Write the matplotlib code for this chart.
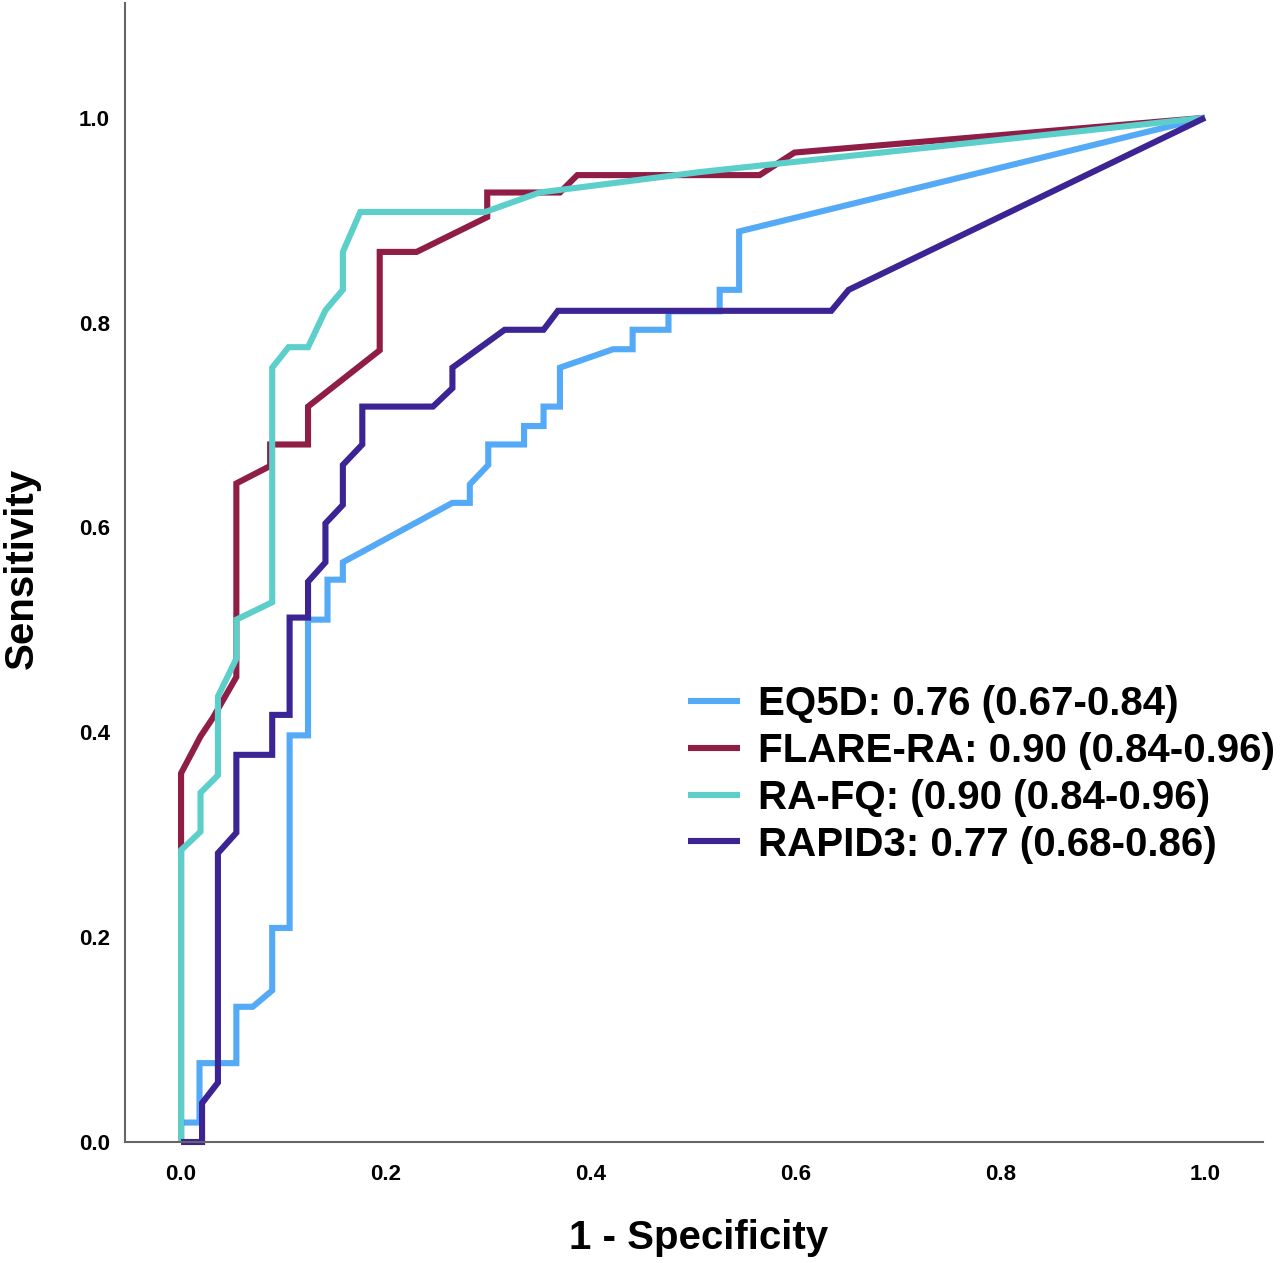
import matplotlib.pyplot as plt

plt.rcParams['font.family'] = ['Liberation Sans', 'DejaVu Sans']

# ROC curves (1 - specificity, sensitivity)
eq5d_x = [0, 0, 0.018, 0.018, 0.054, 0.054, 0.070, 0.089, 0.089, 0.106, 0.106, 0.124, 0.124,
          0.143, 0.143, 0.158, 0.158, 0.265, 0.282, 0.282, 0.300, 0.300, 0.335, 0.335, 0.354,
          0.354, 0.370, 0.370, 0.422, 0.441, 0.441, 0.476, 0.476, 0.526, 0.526, 0.545, 0.545, 1.0]
eq5d_y = [0, 0.019, 0.019, 0.077, 0.077, 0.132, 0.132, 0.148, 0.209, 0.209, 0.397, 0.397, 0.510,
          0.510, 0.549, 0.549, 0.566, 0.624, 0.624, 0.642, 0.661, 0.681, 0.681, 0.699, 0.699,
          0.718, 0.718, 0.756, 0.774, 0.774, 0.793, 0.793, 0.811, 0.811, 0.832, 0.832, 0.889, 1.0]

flare_x = [0, 0, 0.019, 0.031, 0.054, 0.054, 0.087, 0.087, 0.124, 0.124, 0.194, 0.194, 0.230,
           0.299, 0.299, 0.370, 0.387, 0.565, 0.599, 1.0]
flare_y = [0, 0.360, 0.396, 0.414, 0.454, 0.643, 0.660, 0.681, 0.681, 0.718, 0.773, 0.869, 0.869,
           0.903, 0.927, 0.927, 0.944, 0.944, 0.966, 1.0]

rafq_x = [0, 0, 0.019, 0.019, 0.036, 0.036, 0.054, 0.054, 0.089, 0.089, 0.105, 0.124, 0.141,
          0.158, 0.158, 0.175, 0.297, 0.350, 0.507, 1.0]
rafq_y = [0, 0.285, 0.303, 0.341, 0.358, 0.435, 0.472, 0.510, 0.527, 0.756, 0.776, 0.776, 0.812,
          0.832, 0.869, 0.908, 0.908, 0.927, 0.947, 1.0]

rapid_x = [0, 0.0205, 0.0205, 0.036, 0.036, 0.054, 0.054, 0.089, 0.089, 0.106, 0.106, 0.124, 0.124,
           0.141, 0.141, 0.158, 0.158, 0.177, 0.177, 0.246, 0.265, 0.265, 0.316, 0.354, 0.368,
           0.635, 0.652, 1.0]
rapid_y = [0, 0, 0.038, 0.058, 0.282, 0.302, 0.378, 0.378, 0.417, 0.417, 0.512, 0.512, 0.547,
           0.566, 0.604, 0.622, 0.661, 0.681, 0.718, 0.718, 0.736, 0.756, 0.793, 0.793, 0.8115,
           0.8115, 0.832, 1.0]

labels = ['EQ5D: 0.76 (0.67-0.84)', 'FLARE-RA: 0.90 (0.84-0.96)',
          'RA-FQ: (0.90 (0.84-0.96)', 'RAPID3: 0.77 (0.68-0.86)']
colors = ['#55aaf7', '#8f1d45', '#5ccfcb', '#3c2494']
ticks = [0.0, 0.2, 0.4, 0.6, 0.8, 1.0]

fig = plt.figure(figsize=(12.8, 12.63), dpi=100)
ax = fig.add_axes([0.0977, 0.0958, 0.889, 0.9018])

curves = [(eq5d_x, eq5d_y), (flare_x, flare_y), (rafq_x, rafq_y), (rapid_x, rapid_y)]
for (xs, ys), lab, col in zip(curves, labels, colors):
    ax.plot(xs, ys, color=col, lw=4.4, label=lab, clip_on=False,
            solid_joinstyle='miter', solid_capstyle='butt')

ax.set_xlim(-0.0547, 1.0566)
ax.set_ylim(0, 1.112)
ax.set_xticks(ticks)
ax.set_yticks(ticks)
ax.set_xticklabels(['%.1f' % t for t in ticks], fontsize=16, fontweight='bold')
ax.set_yticklabels(['%.1f' % t for t in ticks], fontsize=16, fontweight='bold')
ax.tick_params(length=0)
ax.tick_params(axis='x', pad=16)
ax.tick_params(axis='y', pad=11)

for s in ['top', 'right']:
    ax.spines[s].set_visible(False)
for s in ['left', 'bottom']:
    ax.spines[s].set_color('#666666')
    ax.spines[s].set_linewidth(1.5)

ax.set_xlabel('1 - Specificity', fontsize=29, fontweight='bold')
ax.set_ylabel('Sensitivity', fontsize=29, fontweight='bold')
ax.xaxis.set_label_coords(0.504, -0.068)
ax.yaxis.set_label_coords(-0.074, 0.504)

leg = ax.legend(loc='center left', bbox_to_anchor=(0.5375, 0.387), bbox_transform=fig.transFigure,
                frameon=False, prop={'size': 29, 'weight': 'bold'}, handlelength=1.3,
                handletextpad=0.45, labelspacing=0.22, borderpad=0, borderaxespad=0)

fig.savefig('out.png', dpi=100)
